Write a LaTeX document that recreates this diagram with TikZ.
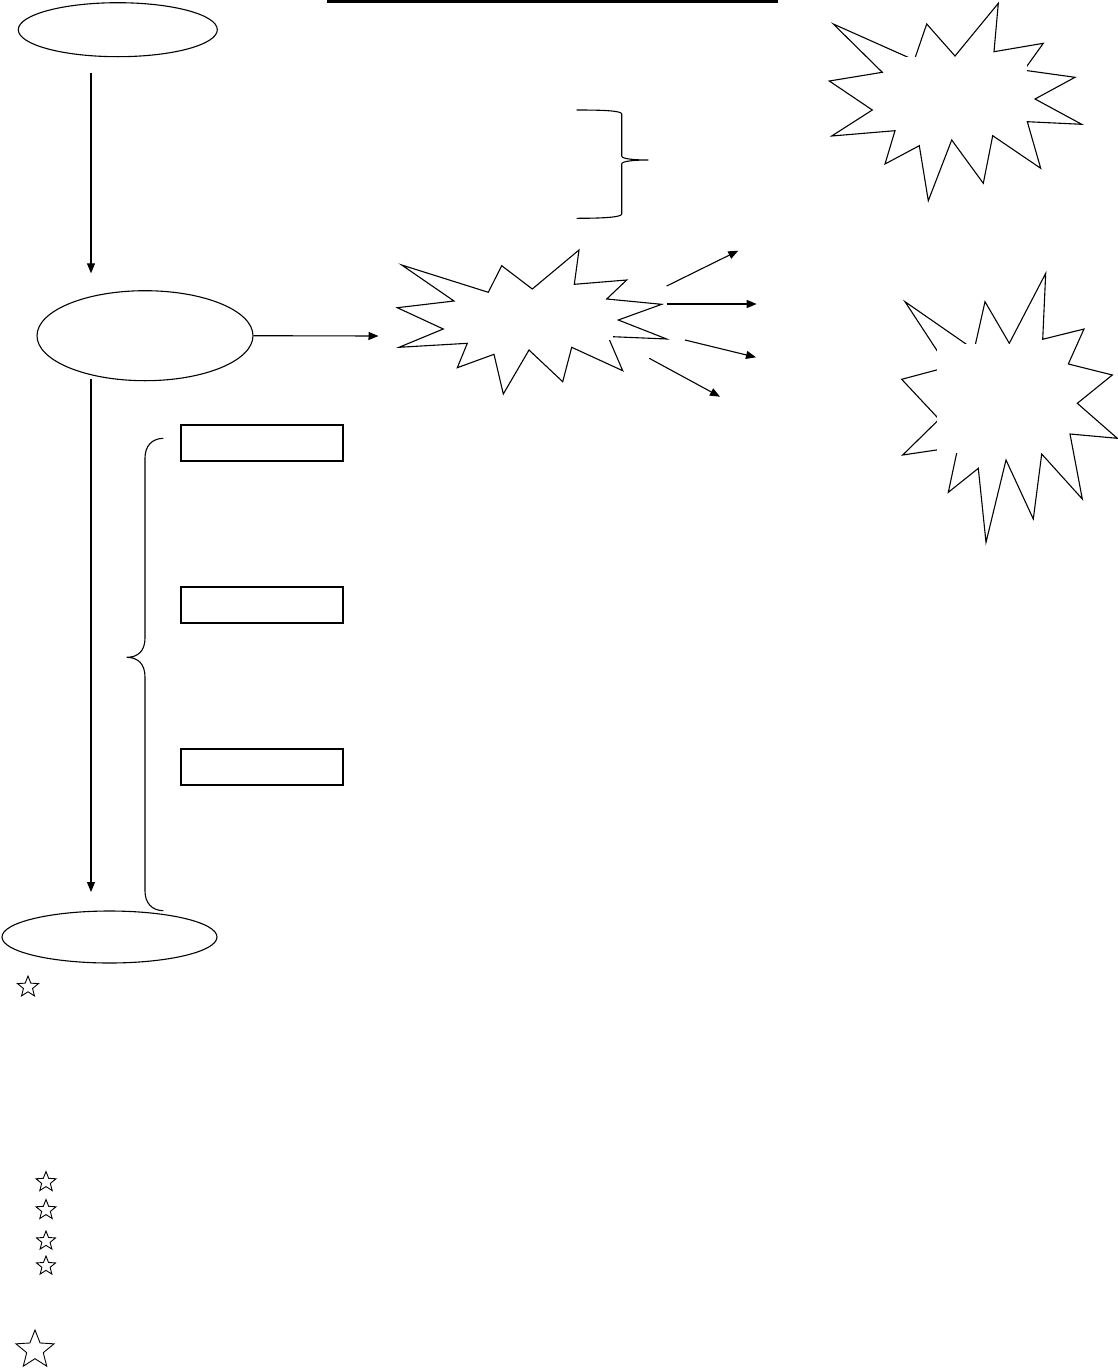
\documentclass[tikz,border=0pt]{standalone}
\usetikzlibrary{arrows.meta,shapes.geometric}
\begin{document}
\begin{tikzpicture}[x=1pt,y=-1pt,
  line width=1.1pt, line join=miter,
  oval/.style={draw, ellipse, inner sep=0pt},
  plainbox/.style={draw, rectangle, inner sep=0pt, minimum width=162pt, minimum height=36pt, line width=1.6pt},
  flow/.style={-{Triangle[length=10pt,width=8pt]}},
  starmark/.style={draw, star, star points=5, star point ratio=2.3, inner sep=0pt, line width=0.9pt},
  burst/.style={draw, line width=1.1pt},
  mask/.style={fill=white, draw=none}
]
\useasboundingbox (0,0) rectangle (1118,1371);

% top rule
\coordinate (ruleL) at (327,1.6);
\coordinate (ruleR) at (778,1.6);
\draw[line width=3.2pt] (ruleL) -- (ruleR);

% ovals
\node[oval, minimum width=199pt, minimum height=54pt] (o1) at (117.8,29.7) {};
\node[oval, minimum width=216pt, minimum height=90pt] (o2) at (145,335.7) {};
\node[oval, minimum width=215pt, minimum height=52pt] (o3) at (109.5,937) {};

% vertical flow
\coordinate (a1s) at (91,73);
\coordinate (a1e) at (91,273.3);
\draw[flow] (a1s) -- (a1e);
\coordinate (a2s) at (91,378.5);
\coordinate (a2e) at (91,892);
\draw[flow] (a2s) -- (a2e);
\coordinate (a3e) at (378.5,336);
\draw[flow] (o2.east) -- (a3e);

% boxes
\node[plainbox] (b1) at (262,443) {};
\node[plainbox] (b2) at (262,604.7) {};
\node[plainbox] (b3) at (262,766.7) {};

% left brace
\coordinate (brT) at (163.3,438.3);
\coordinate (brM) at (126.7,657.3);
\coordinate (brB) at (163.3,910.7);
\draw (brT) .. controls (152,438.5) and (145,446) .. (145,458)
  -- (145,638) .. controls (145,651) and (138,657.3) .. (brM)
  .. controls (138,657.3) and (145,664) .. (145,677)
  -- (145,891) .. controls (145,903) and (152,910.5) .. (brB);

% right brace
\coordinate (rbT) at (576.7,110);
\coordinate (rbM) at (648.3,160);
\coordinate (rbB) at (576.7,218.3);
\draw (rbT) .. controls (600,110) and (621.7,110.5) .. (621.7,114)
  -- (621.7,156) .. controls (621.7,159) and (635,160) .. (rbM)
  .. controls (635,160) and (621.7,161) .. (621.7,164)
  -- (621.7,214) .. controls (621.7,217.5) and (600,218.3) .. (rbB);

% burst 1
\draw[burst] (401.7,265) -- (488.3,292.3) -- (501.7,265.7) -- (532.3,289) -- (579,250)
  -- (574.3,284.3) -- (626.7,280) -- (606.7,299) -- (661.7,304.3) -- (618.3,320)
  -- (666.7,339) -- (608,336.5) -- (622.7,370.7) -- (571.7,347.3) -- (562.7,381.7)
  -- (529,350) -- (503.3,394) -- (494,354.3) -- (457.3,367.7) -- (467.3,343.3)
  -- (399,347.3) -- (443.3,329) -- (397.3,307.7) -- (454,301) -- cycle;
\fill[mask] (470,300) rectangle (613,340);

% burst 1 rays
\coordinate (r1s) at (666.7,286);   \coordinate (r1e) at (738.3,250.7);
\coordinate (r2s) at (666.7,304);   \coordinate (r2e) at (756.7,304);
\coordinate (r3s) at (685,340);     \coordinate (r3e) at (756,357.3);
\coordinate (r4s) at (649.3,358.3); \coordinate (r4e) at (720,396.7);
\draw[flow] (r1s) -- (r1e);
\draw[flow] (r2s) -- (r2e);
\draw[flow] (r3s) -- (r3e);
\draw[flow] (r4s) -- (r4e);

% burst 2 (top right)
\draw[burst] (833.3,24) -- (914.3,60.1) -- (926.7,24) -- (955,56) -- (998.3,3.3)
  -- (994,51.7) -- (1043.3,43.3) -- (1024,70.2) -- (1075,77.3) -- (1035,99)
  -- (1081.7,124.3) -- (1027.3,121.7) -- (1040.7,168.3) -- (992.7,135.7) -- (983.3,183.3)
  -- (951.7,140) -- (928.3,200.7) -- (919.3,145.7) -- (885,164) -- (895,130.7)
  -- (831.7,136) -- (872.3,110) -- (829.3,81) -- (882.3,72.3) -- cycle;
\fill[mask] (905.3,56.6) rectangle (1027,121);

% burst 3 (right)
\draw[burst] (905,301.7) -- (974.2,349.7) -- (985,301.7) -- (1009.3,343.3) -- (1045.7,273.3)
  -- (1042.7,339.3) -- (1084,329) -- (1068.3,364) -- (1112.3,375) -- (1077.3,403.3)
  -- (1117.3,438.3) -- (1070,434) -- (1082.3,499) -- (1041.7,454) -- (1033.3,519)
  -- (1006,460) -- (986,542.3) -- (978.3,468.3) -- (948.3,492.3) -- (958,446.8)
  -- (902.7,455) -- (939.1,419.3) -- (901.7,379.3) -- (947.8,367) -- cycle;
\fill[mask] (936.7,344) rectangle (1060,453.3);

% stars
\node[starmark, minimum size=22pt] (s1) at (28,987) {};
\node[starmark, minimum size=21pt] (s2) at (46,1182) {};
\node[starmark, minimum size=21pt] (s3) at (46,1210) {};
\node[starmark, minimum size=20pt] (s4) at (46,1241) {};
\node[starmark, minimum size=20pt] (s5) at (46,1266) {};
\node[starmark, minimum size=40pt] (s6) at (35,1350) {};
\end{tikzpicture}
\end{document}
